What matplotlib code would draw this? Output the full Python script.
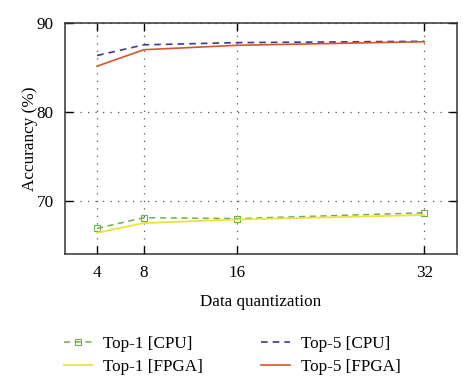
import numpy as np
import matplotlib
matplotlib.use("Agg")
import matplotlib.pyplot as plt

plt.rcParams["font.family"] = ["Liberation Serif", "DejaVu Serif"]

bits = [4, 8, 16, 32]
top1_cpu = [66.9, 68.1, 68.0, 68.65]
top1_fpga = [66.4, 67.5, 67.9, 68.4]
top5_cpu = [86.35, 87.55, 87.8, 87.95]
top5_fpga = [85.15, 87.0, 87.5, 87.9]

fig = plt.figure(figsize=(4.74, 3.91), dpi=100)
ax = fig.add_axes([0.137, 0.350, 0.827, 0.591])

ax.plot(bits, top1_cpu, color="#6fae4a", linestyle=(0, (4, 3)), linewidth=1.1,
        marker="s", markersize=4.5, markerfacecolor="none", markeredgewidth=0.8,
        label="Top-1 [CPU]")
ax.plot(bits, top1_fpga, color="#ebe33a", linewidth=1.3, label="Top-1 [FPGA]")
ax.plot(bits, top5_cpu, color="#3b3b8f", linestyle=(0, (4, 3)), linewidth=1.2,
        label="Top-5 [CPU]")
ax.plot(bits, top5_fpga, color="#d6552b", linewidth=1.2, label="Top-5 [FPGA]")

ax.set_xlim(1.25, 34.8)
ax.set_ylim(64, 90)
ax.set_xticks(bits)
ax.set_yticks([70, 80, 90])
ax.tick_params(direction="in", top=True, right=True, length=6, width=1,
               labelsize=12.3, pad=8)
ax.grid(True, linestyle=(0, (1, 5)), color="#555555", linewidth=0.9)
for s in ax.spines.values():
    s.set_linewidth(1.1)
    s.set_color("#333333")

ax.set_xlabel("Data quantization", fontsize=12.3, labelpad=9)
ax.set_ylabel("Accurancy (%)", fontsize=12.3, labelpad=-1)

fig.legend(loc="center", bbox_to_anchor=(0.49, 0.091), ncol=2, frameon=False,
           fontsize=12.3, handlelength=1.65, columnspacing=3.4, labelspacing=0.4,
           handletextpad=0.65)

fig.savefig("out.png", dpi=100)
